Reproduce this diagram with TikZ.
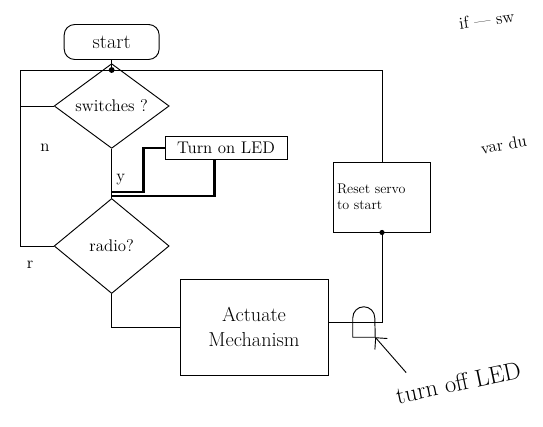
\documentclass[tikz,border=0pt]{standalone}
\usepackage{tikz}
\usetikzlibrary{positioning,arrows.meta,shapes.geometric}

\begin{document}
\begin{tikzpicture}[
    >={Straight Barb[length=2.5mm]},
    terminal/.style={rectangle, draw, rounded corners=9pt, minimum width=2.85cm, minimum height=1.05cm, font=\LARGE, line width=0.8pt},
    decision/.style={diamond, draw, minimum width=3.45cm, font=\Large, inner sep=0pt, line width=0.8pt},
    block/.style={rectangle, draw, align=center, font=\LARGE, line width=0.8pt},
    wire/.style={line width=0.8pt},
    ledwire/.style={line width=2.2pt},
    lbl/.style={font=\Large},
    note/.style={font=\Large}
]

\useasboundingbox (0,0) rectangle (16.29,12.78);

% Column 1: start and the two checks
\node[terminal] (start) at (3.35,11.52) {start};
\coordinate (split) at (3.35,10.68);
\node[decision, minimum height=2.46cm] (switches) at (3.35,9.60) {switches ?};
\coordinate (merge) at (3.35,7.02);
\node[decision, minimum height=2.85cm] (radio) at (3.35,5.40) {radio?};
\coordinate (leftrail) at (0.60,10.68);

% Column 2: LED and actuator
\node[block, font=\Large, minimum width=3.66cm, minimum height=0.69cm, inner sep=1pt] (turnon) at (6.78,8.34) {Turn on LED};
\node[block, minimum width=4.44cm, minimum height=2.88cm] (actuate) at (7.62,2.97) {Actuate\\Mechanism};
\node[minimum width=0.66cm, minimum height=0.9cm, inner sep=0pt] (led) at (10.92,3.12) {};

% Column 3: reset
\node[block, font=\large, align=left, text width=2.7cm, minimum height=2.1cm] (reset) at (11.46,6.87) {Reset servo\\to start};

% Labels and notes
\node[lbl] (nlbl) at (1.35,8.34) {n};
\node[lbl] (ylbl) at (3.62,7.40) {y};
\node[lbl] (rlbl) at (0.90,4.83) {r};
\node[note, rotate=12] (offlbl) at (13.75,1.30) {\huge turn off LED};
\node[note, anchor=west, rotate=8] (ifnote) at (13.65,12.05) {if --- sw};
\node[note, anchor=west, rotate=10] (varnote) at (14.30,8.30) {var du};

% === Connectors ===

% main column
\draw[wire] (start) -- (split) -- (switches);
\draw[wire] (switches) -- (merge) -- (radio);
\fill (split) circle (2.5pt);

% left rail: n and r branches
\draw[wire] (split) -- (leftrail) |- (radio.west);
\draw[wire] (switches.west) -- (switches.west -| leftrail);

% LED wiring
\draw[ledwire] (merge) -- ++(0.95,0) |- (turnon.west);
\draw[ledwire] ([xshift=-0.35cm]turnon.south) |- ([yshift=-0.12cm]merge);

% radio to actuator to LED
\draw[wire] (radio.south) |- (actuate.west);
\draw[wire] (actuate.east |- led.west) -- (led.west);
\draw[wire] (led.south west) -- ([yshift=-0.33cm]led.north west) arc[start angle=180, end angle=0, radius=0.33cm] -- (led.south east) -- cycle;
\draw[wire] (led.west) -- (led.east);

% back round through reset
\draw[wire] (reset.south) |- (led.east);
\fill (reset.south) circle (2.2pt);
\draw[wire] (split) -| (reset.north);

% pointer to LED
\draw[wire, ->] (offlbl.north west) ++(0.5,0.35) -- (led.south east);

\end{tikzpicture}
\end{document}
